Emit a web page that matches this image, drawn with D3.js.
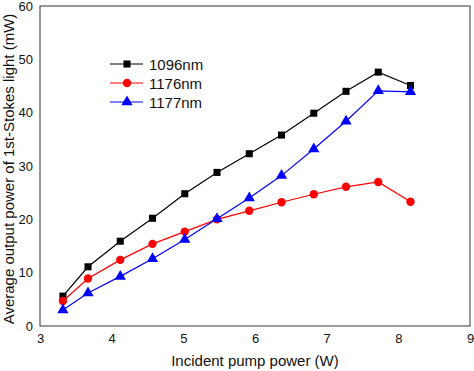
<!DOCTYPE html>
<html>
<head>
<meta charset="utf-8">
<script src="https://cdn.jsdelivr.net/npm/d3@7"></script>
<style>
  body { margin: 0; background: #fff; }
  svg { display: block; font-family: Arial, "Liberation Sans", sans-serif; }
</style>
</head>
<body>
<svg id="chart" width="474" height="371"></svg>
<script>
// pump power (W)
const pump = [3.32, 3.67, 4.12, 4.57, 5.02, 5.47, 5.92, 6.37, 6.82, 7.27, 7.72, 8.17]
const p1096 = [5.6, 11.1, 15.9, 20.2, 24.8, 28.8, 32.3, 35.8, 39.9, 44.0, 47.6, 45.1]
const p1176 = [4.7, 8.9, 12.4, 15.4, 17.7, 20.0, 21.6, 23.2, 24.7, 26.1, 27.0, 23.3]
const p1177 = [3.0, 6.2, 9.3, 12.6, 16.2, 20.1, 24.0, 28.2, 33.2, 38.4, 44.1, 43.9]
const seriesNames = ['1096nm', '1176nm', '1177nm']
const xTicks = [3, 4, 5, 6, 7, 8, 9]
const yTicks = [0, 10, 20, 30, 40, 50, 60]

const series = [
  { name: seriesNames[0], values: p1096, color: '#000000', shape: d3.symbolSquare, size: 50 },
  { name: seriesNames[1], values: p1176, color: '#ff0000', shape: d3.symbolCircle, size: 55 },
  { name: seriesNames[2], values: p1177, color: '#0000ff', shape: d3.symbolTriangle, size: 55 }
]

const svg = d3.select('#chart')
const plotL = 40, plotR = 470, plotT = 6, plotB = 326

const x = d3.scaleLinear().domain([3, 9]).range([plotL, plotR])
const y = d3.scaleLinear().domain([0, 60]).range([plotB, plotT])

// frame
svg.append('rect')
  .attr('x', plotL).attr('y', plotT)
  .attr('width', plotR - plotL).attr('height', plotB - plotT)
  .attr('fill', 'none').attr('stroke', '#333').attr('stroke-width', 1)

// x axis (labels only)
const xAxis = svg.append('g')
  .attr('transform', `translate(0, ${plotB})`)
  .call(d3.axisBottom(x).tickValues(xTicks).tickSize(0).tickPadding(8).tickFormat(d3.format('d')))
xAxis.select('.domain').remove()
xAxis.selectAll('text').attr('font-size', 13).attr('fill', '#111').attr('font-family', 'Arial, "Liberation Sans", sans-serif')

// y axis (labels only)
const yAxis = svg.append('g')
  .attr('transform', `translate(${plotL}, 0)`)
  .call(d3.axisLeft(y).tickValues(yTicks).tickSize(0).tickPadding(7).tickFormat(d3.format('d')))
yAxis.select('.domain').remove()
yAxis.selectAll('text').attr('font-size', 13).attr('fill', '#111').attr('font-family', 'Arial, "Liberation Sans", sans-serif')

// axis titles
svg.append('text')
  .attr('x', 255).attr('y', 366)
  .attr('text-anchor', 'middle')
  .attr('font-size', 15).attr('fill', '#111')
  .text('Incident pump power (W)')

svg.append('text')
  .attr('transform', `translate(14, ${(plotT + plotB) / 2 + 3}) rotate(-90)`)
  .attr('text-anchor', 'middle')
  .attr('font-size', 15).attr('fill', '#111')
  .text('Average output power of 1st-Stokes light (mW)')

// lines and markers
const line = d3.line().x((d, i) => x(pump[i])).y(d => y(d))

series.forEach(s => {
  svg.append('path')
    .datum(s.values)
    .attr('d', line)
    .attr('fill', 'none')
    .attr('stroke', s.color)
    .attr('stroke-width', 1.2)

  svg.selectAll(null)
    .data(s.values)
    .enter()
    .append('path')
    .attr('transform', (d, i) => `translate(${x(pump[i])}, ${y(d)})`)
    .attr('d', d3.symbol().type(s.shape).size(s.size))
    .attr('fill', s.color)
})

// legend
const legend = svg.append('g')
series.forEach((s, i) => {
  const ly = 64 + i * 19
  legend.append('line')
    .attr('x1', 110).attr('x2', 143).attr('y1', ly).attr('y2', ly)
    .attr('stroke', s.color).attr('stroke-width', 1.2)
  legend.append('path')
    .attr('transform', `translate(127, ${ly})`)
    .attr('d', d3.symbol().type(s.shape).size(s.size))
    .attr('fill', s.color)
  legend.append('text')
    .attr('x', 149).attr('y', ly + 5.5)
    .attr('font-size', 15).attr('fill', '#111')
    .text(s.name)
})
</script>
</body>
</html>
